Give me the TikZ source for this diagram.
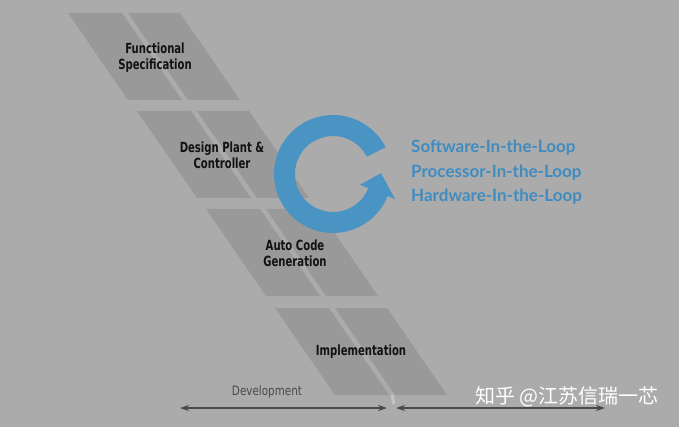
\documentclass[tikz,border=0pt]{standalone}
\usepackage{fontspec}
\setmainfont{DejaVu Sans}
\newfontfamily\condfont[FakeStretch=0.72]{DejaVu Sans}
\newfontfamily\devfont[FakeStretch=0.8]{DejaVu Sans}
\newfontfamily\loopfont{Lato}
\newfontfamily\cjkfont{Noto Sans CJK SC}
\usetikzlibrary{arrows.meta}

\definecolor{bggray}{HTML}{ABABAB}
\definecolor{blockgray}{HTML}{999999}
\definecolor{labelblack}{HTML}{121212}
\definecolor{loopblue}{HTML}{4A94C4}
\definecolor{looptext}{HTML}{3F8CC0}
\definecolor{devgray}{HTML}{4A4A4A}

\begin{document}
\begin{tikzpicture}[
        % Define styles
        x=1pt, y=-1pt,
        block/.style={fill=blockgray},
        steplabel/.style={font=\condfont\bfseries\fontsize{14}{16}\selectfont,
            text=labelblack, align=center, inner sep=0pt},
        looplabel/.style={font=\loopfont\bfseries\fontsize{17}{19}\selectfont,
            text=looptext, anchor=west, inner sep=0pt},
        span/.style={devgray, line width=1.3pt, {Stealth[length=9pt,width=6pt]}-{Stealth[length=9pt,width=6pt]}},
        gapline/.style={bggray!70!white, line width=3pt}
    ]

        % Background
        \fill[bggray] (0,0) rectangle (679,427);
        \useasboundingbox (0,0) rectangle (679,427);

        % --- Blocks ---

        % Functional Specification
        \fill[block] (68,13) -- ++(54,0) -- ++(60,87) -- ++(-54,0) -- cycle;
        \fill[block] (128,13) -- ++(52,0) -- ++(60,87) -- ++(-52,0) -- cycle;

        % Design Plant & Controller
        \fill[block] (137,111) -- ++(54,0) -- ++(60,87) -- ++(-54,0) -- cycle;
        \fill[block] (197,111) -- ++(52,0) -- ++(60,87) -- ++(-52,0) -- cycle;

        % Auto Code Generation
        \fill[block] (206,209) -- ++(54,0) -- ++(60,87) -- ++(-54,0) -- cycle;
        \fill[block] (266,209) -- ++(52,0) -- ++(60,87) -- ++(-52,0) -- cycle;

        % Implementation
        \fill[block] (275,308) -- ++(54,0) -- ++(60,87) -- ++(-54,0) -- cycle;
        \fill[block] (335,308) -- ++(52,0) -- ++(60,87) -- ++(-52,0) -- cycle;
        \draw[gapline] (392,395) -- (394,404);

        % --- Coordinates ---
        \coordinate (spec_c) at (155,58);
        \coordinate (design_c) at (222,155);
        \coordinate (code_c) at (295,253);
        \coordinate (impl_c) at (361,352);

        \coordinate (loop_c) at (333,174);

        \coordinate (dev_left) at (180,408);
        \coordinate (dev_right) at (387,408);
        \coordinate (ver_left) at (396,408);
        \coordinate (ver_right) at (605,408);

        % --- Labels ---
        \node[steplabel] (spec) at (spec_c) {Functional\\Specification};
        \node[steplabel] (design) at (design_c) {Design Plant \&\\Controller};
        \node[steplabel] (code) at (code_c) {Auto Code\\Generation};
        \node[steplabel] (impl) at (impl_c) {Implementation};

        % --- Loop arrow ---
        \fill[loopblue, shift={(loop_c)}]
            (-27:59) arc[start angle=-27, end angle=-338, radius=59]
            -- (-338:67) -- (-1:48) -- (-338:29) -- (-338:38)
            arc[start angle=-338, end angle=-27, radius=38] -- cycle;

        \node[looplabel] (sil) at (411,148) {Software-In-the-Loop};
        \node[looplabel] (pil) at (411,172.5) {Processor-In-the-Loop};
        \node[looplabel] (hil) at (411,197) {Hardware-In-the-Loop};

        % --- Phases ---
        \draw[span] (dev_left) -- (dev_right);
        \draw[span] (ver_left) -- (ver_right);
        \node[font=\devfont\fontsize{13}{15}\selectfont, text=devgray] (dev) at (267,392) {Development};

        % Watermark
        \node[font=\cjkfont\fontsize{20}{22}\selectfont, text=white, inner sep=0pt] (mark) at (567,397) {知乎 @江苏信瑞一芯};

    \end{tikzpicture}
\end{document}
